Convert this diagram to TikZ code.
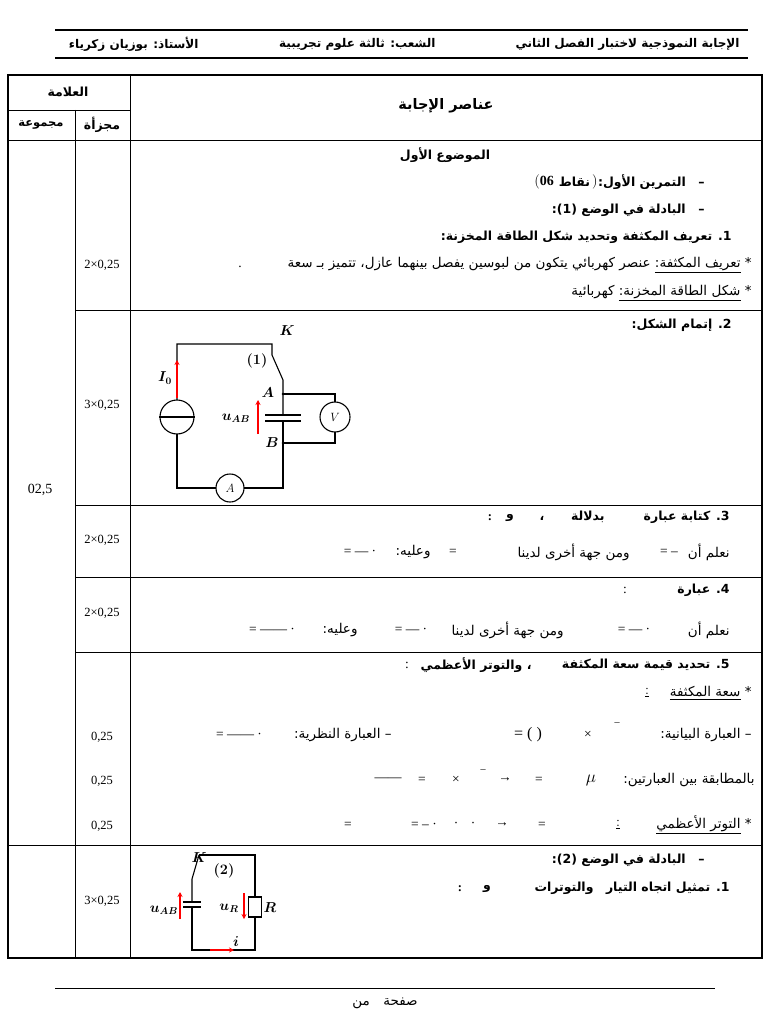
\documentclass[tikz,border=0pt]{standalone}
\usepackage{amsmath}
\usepackage{fontspec}
\usetikzlibrary{arrows.meta}
\TeXXeTstate=1
\newfontfamily\arabicfont[Script=Arabic]{DejaVu Sans}
\setmainfont{Liberation Serif}
\newcommand\ar[1]{{\arabicfont\beginR #1\endR}}
\newcommand\arul[1]{$\underline{\hbox{\arabicfont\beginR #1\endR}}$}
\begin{document}
\begin{tikzpicture}[x=1pt,y=-1pt,line width=0.9pt,
  tx/.style={inner sep=0pt,font=\fontsize{13.5}{15}\selectfont},
  bt/.style={tx,font=\fontsize{12.5}{14}\selectfont\bfseries},
  R/.style={tx,anchor=east},
  BR/.style={bt,anchor=east},
  mk/.style={inner sep=0pt,font=\fontsize{12.5}{14}\selectfont},
  lab/.style={inner sep=0pt,font=\fontsize{14}{16}\selectfont},
  redarr/.style={draw=red,-{Stealth[length=5pt,width=5pt]},line width=1.2pt},
  wire/.style={line width=1.1pt}]
\useasboundingbox (0,0) rectangle (768,1024);
% header
\draw[line width=1.2pt] (55,30) -- (748,30);
\draw[line width=1.2pt] (55,58) -- (748,58);
\node[BR,font=\fontsize{12}{14}\selectfont\bfseries] (h1) at (740,44) {\ar{الإجابة النموذجية لاختبار الفصل الثاني}};
\node[BR,font=\fontsize{12}{14}\selectfont\bfseries] (h2) at (436,44) {\ar{الشعب: ثالثة علوم تجريبية}};
\node[BR,font=\fontsize{12}{14}\selectfont\bfseries] (h3) at (199,44) {\ar{الأستاذ: بوزيان زكرياء}};
% table
\draw[line width=1.1pt] (8,75) rectangle (762,958);
\draw (75,110) -- (75,958);
\draw (130,75) -- (130,958);
\draw (8,110) -- (130,110);
\draw (8,140) -- (762,140);
\draw (75,310) -- (762,310);
\draw (75,505) -- (762,505);
\draw (75,577) -- (762,577);
\draw (75,652) -- (762,652);
\draw (8,845) -- (762,845);
\node[bt] (t1) at (68,92) {\ar{العلامة}};
\node[bt] (t2) at (102,125) {\ar{مجزأة}};
\node[bt,font=\fontsize{11.5}{14}\selectfont\bfseries] (t3) at (41,125) {\ar{مجموعة}};
\node[bt,font=\fontsize{14.5}{16}\selectfont\bfseries] (t4) at (446,106) {\ar{عناصر الإجابة}};
\node[mk,font=\fontsize{14}{16}\selectfont] (tot) at (40,490) {02,5};
\node[mk] (m1) at (102,265) {2×0,25};
\node[mk] (m2) at (102,405) {3×0,25};
\node[mk] (m3) at (102,540) {2×0,25};
\node[mk] (m4) at (102,613) {2×0,25};
\node[mk] (m5) at (102,737) {0,25};
\node[mk] (m6) at (102,781) {0,25};
\node[mk] (m7) at (102,826) {0,25};
\node[mk] (m8) at (102,901) {3×0,25};
% row 1
\node[bt] (r1a) at (445,155) {\ar{الموضوع الأول}};
\node[BR] (r1b) at (705,182) {\ar{–\quad التمرين الأول:}};
\node[bt,anchor=east,font=\fontsize{14}{16}\selectfont] (p1) at (598,182) {$\mathbf{)}$};
\node[bt,anchor=east] (p2) at ([xshift=-1pt]p1.west) {\ar{نقاط}};
\node[bt,anchor=east,font=\fontsize{14}{16}\selectfont] (p3) at ([xshift=-4pt]p2.west) {$\mathbf{(06}$};
\node[BR] (r1c) at (705,210) {\ar{–\quad البادلة في الوضع \beginL(1)\endL:}};
\node[BR] (r1d) at (732,237) {\ar{\beginL 1.\endL{} تعريف المكثفة وتحديد شكل الطاقة المخزنة:}};
\node[R] (r1e) at (752,265) {\ar{* \arul{تعريف المكثفة:} عنصر كهربائي يتكون من لبوسين يفصل بينهما عازل، تتميز بـ سعة}};
\node[tx] (r1f) at (240,267) {.};
\node[R] (r1g) at (752,293) {\ar{* \arul{شكل الطاقة المخزنة:} كهربائية}};
% row 2
\node[BR] (r2a) at (732,325) {\ar{\beginL 2.\endL{} إتمام الشكل:}};
% circuit 1
\coordinate (c1tl) at (177,344); \coordinate (c1tr) at (272,344);
\coordinate (sw1) at (272,355); \coordinate (sw2) at (283,380);
\coordinate (A) at (283,394); \coordinate (B) at (283,443);
\coordinate (c1br) at (283,488); \coordinate (c1bl) at (177,488);
\draw[wire] (177,400) -- (c1tl) -- (c1tr) -- (sw1) -- (sw2) -- (283,414);
\draw[wire] (283,422) -- (c1br) -- (244,488);
\draw[wire] (216,488) -- (c1bl) -- (177,434);
\draw[wire] (265,415) -- (301,415); \draw[wire] (265,421) -- (301,421);
\draw[wire] (A) -- (335,394) -- (335,402);
\draw[wire] (B) -- (335,443) -- (335,432);
\node[draw,circle,minimum size=34pt,inner sep=0pt,line width=1.1pt] (G) at (177,417) {};
\draw[wire] (G.west) -- (G.east);
\node[draw,circle,minimum size=30pt,inner sep=0pt,line width=1.1pt,font=\fontsize{13}{14}\selectfont] (V) at (335,417) {$V$};
\node[draw,circle,minimum size=28pt,inner sep=0pt,line width=1.1pt,font=\fontsize{13}{14}\selectfont] (Am) at (230,488) {$A$};
\fill (A) circle (1.3pt); \fill (B) circle (1.3pt);
\coordinate (i0a) at (177,398); \coordinate (i0b) at (177,360);
\draw[redarr] (i0a) -- (i0b);
\coordinate (ua) at (258,434); \coordinate (ub) at (258,400);
\draw[redarr] (ua) -- (ub);
\node[lab] (lI) at (165,378) {$\boldsymbol{I_0}$};
\node[lab] (lu) at (236,418) {$\boldsymbol{u_{AB}}$};
\node[lab] (lA) at (268,393) {$\boldsymbol{A}$};
\node[lab] (lB) at (272,443) {$\boldsymbol{B}$};
\node[lab] (lK) at (287,331) {$\boldsymbol{K}$};
\node[lab] (l1) at (257,361) {$\boldsymbol{(1)}$};
% row 3
\node[BR] (r3a) at (730,517) {\ar{\beginL 3.\endL{} كتابة عبارة}};
\node[BR] (r3b) at (605,517) {\ar{بدلالة}};
\node[bt] (r3c) at (542,518) {\ar{،}};
\node[bt] (r3d) at (510,518) {\ar{و}};
\node[bt] (r3e) at (490,518) {:};
\node[R] (r3f) at (730,552) {\ar{نعلم أن}};
\node[tx] (r3g) at (669,552) {= –};
\node[R] (r3h) at (630,552) {\ar{ومن جهة أخرى لدينا}};
\node[tx] (r3i) at (453,552) {=};
\node[R] (r3j) at (431,552) {\ar{وعليه:}};
\node[tx] (r3k) at (360,552) {= — ·};
% row 4
\node[BR] (r4a) at (730,590) {\ar{\beginL 4.\endL{} عبارة}};
\node[tx] (r4b) at (625,590) {:};
\node[R] (r4c) at (730,630) {\ar{نعلم أن}};
\node[tx] (r4d) at (634,630) {= — ·};
\node[R] (r4e) at (564,630) {\ar{ومن جهة أخرى لدينا}};
\node[tx] (r4f) at (411,630) {= — ·};
\node[R] (r4g) at (358,630) {\ar{وعليه:}};
\node[tx] (r4h) at (272,630) {= —— ·};
% row 5
\node[BR] (r5a) at (730,665) {\ar{\beginL 5.\endL{} تحديد قيمة سعة المكثفة}};
\node[BR] (r5b) at (532,665) {\ar{، والتوتر الأعظمي}};
\node[tx] (r5c) at (407,665) {:};
\node[R] (r5d) at (752,693) {\ar{* \arul{سعة المكثفة}}};
\node[tx] (r5e) at (647,693) {$\underline{:}$};
\node[R] (r5f) at (752,735) {\ar{– العبارة البيانية:}};
\node[tx] (r5g) at (617,728) {‾};
\node[tx] (r5h) at (588,735) {×};
\node[tx,font=\fontsize{16}{18}\selectfont] (r5i) at (528,735) {= ( )};
\node[R] (r5j) at (392,735) {\ar{– العبارة النظرية:}};
\node[tx] (r5k) at (239,735) {= —— ·};
\node[R] (r5l) at (755,780) {\ar{بالمطابقة بين العبارتين:}};
\node[tx,font=\fontsize{16}{18}\selectfont] (r5m) at (591,780) {$\mu$};
\node[tx] (r5n) at (539,780) {=};
\node[tx] (r5o) at (505,780) {→};
\node[tx] (r5p) at (483,775) {‾};
\node[tx] (r5q) at (456,780) {×};
\node[tx] (r5r) at (422,780) {=};
\node[tx] (r5s) at (388,780) {——};
\node[R] (r5t) at (752,825) {\ar{* \arul{التوتر الأعظمي}}};
\node[tx] (r5u) at (618,825) {$\underline{:}$};
\node[tx] (r5v) at (542,825) {=};
\node[tx] (r5w) at (502,825) {→};
\node[tx] (r5x) at (473,825) {·};
\node[tx] (r5y) at (456,825) {·};
\node[tx] (r5z) at (424,825) {= – ·};
\node[tx] (r5aa) at (348,825) {=};
% row 6
\node[BR] (r6a) at (705,860) {\ar{–\quad البادلة في الوضع \beginL(2)\endL:}};
\node[BR] (r6b) at (730,888) {\ar{\beginL 1.\endL{} تمثيل اتجاه التيار\quad والتوترات}};
\node[bt] (r6c) at (487,889) {\ar{و}};
\node[bt] (r6d) at (460,889) {:};
% circuit 2
\coordinate (k1) at (199,855); \coordinate (k2) at (192,879);
\coordinate (c2tr) at (255,855); \coordinate (c2br) at (255,950); \coordinate (c2bl) at (192,950);
\draw[wire] (k1) -- (k2) -- (192,902);
\draw[wire] (192,907) -- (c2bl) -- (c2br) -- (255,917);
\draw[wire] (255,897) -- (c2tr) -- (k1);
\draw[wire] (183,902) -- (201,902); \draw[wire] (183,907) -- (201,907);
\node[draw,rectangle,minimum width=13pt,minimum height=20pt,inner sep=0pt,line width=1.1pt] (Rr) at (255,907) {};
\node[lab] (lR) at (270,908) {$\boldsymbol{R}$};
\node[lab] (luR) at (229,908) {$\boldsymbol{u_R}$};
\coordinate (uR1) at (244,893); \coordinate (uR2) at (244,919);
\draw[redarr] (uR1) -- (uR2);
\node[lab] (lu2) at (164,910) {$\boldsymbol{u_{AB}}$};
\coordinate (ua1) at (180,919); \coordinate (ua2) at (180,892);
\draw[redarr] (ua1) -- (ua2);
\node[lab] (li) at (236,941) {$\boldsymbol{i}$};
\coordinate (i1) at (210,950); \coordinate (i2) at (234,950);
\draw[redarr] (i1) -- (i2);
\node[lab] (lK2) at (199,858) {$\boldsymbol{K}$};
\node[lab] (l2) at (224,871) {$\boldsymbol{(2)}$};
% footer
\draw (55,988) -- (715,988);
\node[tx] (ft) at (385,1003) {\ar{صفحة\quad من}};
\end{tikzpicture}
\end{document}
